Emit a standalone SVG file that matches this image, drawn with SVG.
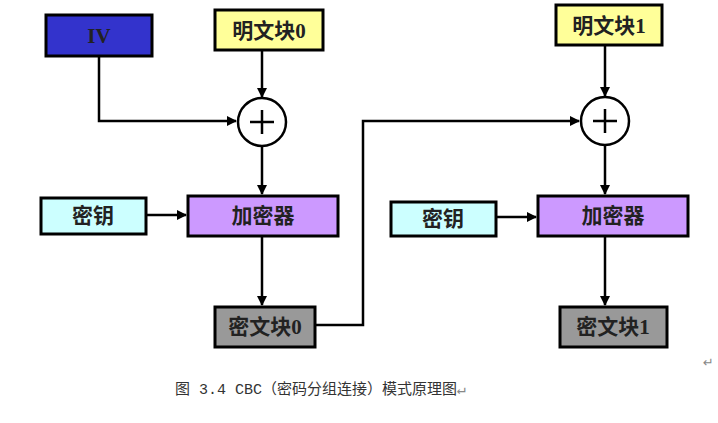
<svg xmlns="http://www.w3.org/2000/svg" width="718" height="423" viewBox="0 0 718 423">
<style>
.b{stroke:#000;stroke-width:3}
.t{font-family:"Liberation Serif","Noto Sans CJK SC",serif;font-weight:bold;font-size:21px;text-anchor:middle;fill:#222}
.c{fill:none;stroke:#000;stroke-width:2.5}
</style>
<defs><marker id="a" viewBox="0 0 10 10" refX="9" refY="5" markerWidth="4" markerHeight="4" orient="auto"><path d="M0,0L10,5L0,10z" fill="#000"/></marker></defs>
<rect width="718" height="423" fill="#fff"/>
<g id="connectors" class="c">
<path d="M99,56V121H236" marker-end="url(#a)"/>
<path d="M262,50V97" marker-end="url(#a)"/>
<path d="M262,147V194" marker-end="url(#a)"/>
<path d="M146,215H186" marker-end="url(#a)"/>
<path d="M262,236V305" marker-end="url(#a)"/>
<path d="M315,325H363V121H579" marker-end="url(#a)"/>
<path d="M605,45V96" marker-end="url(#a)"/>
<path d="M605,146V194" marker-end="url(#a)"/>
<path d="M496,217H536" marker-end="url(#a)"/>
<path d="M605,236V305" marker-end="url(#a)"/>
</g>
<g id="iv"><rect class="b" x="46" y="15" width="106" height="41" fill="#3333cc"/><text class="t" x="99" y="43">IV</text></g>
<g id="p0"><rect class="b" x="215" y="10" width="108" height="40" fill="#ffff99"/><text class="t" x="269" y="38">明文块0</text></g>
<g id="x0"><circle cx="262" cy="122" r="24" fill="#fff" stroke="#000" stroke-width="2.5"/><path d="M250,122H274M262,110V134" stroke="#000" stroke-width="2.5"/></g>
<g id="k0"><rect class="b" x="41" y="198" width="105" height="36" fill="#ccffff"/><text class="t" x="93" y="223">密钥</text></g>
<g id="e0"><rect class="b" x="188" y="196" width="150" height="40" fill="#cc99ff"/><text class="t" x="263" y="223">加密器</text></g>
<g id="c0"><rect class="b" x="215" y="307" width="100" height="40" fill="#999"/><text class="t" x="265" y="334">密文块0</text></g>
<g id="p1"><rect class="b" x="556" y="5" width="106" height="40" fill="#ffff99"/><text class="t" x="609" y="33">明文块1</text></g>
<g id="x1"><circle cx="605" cy="121" r="24" fill="#fff" stroke="#000" stroke-width="2.5"/><path d="M593,121H617M605,109V133" stroke="#000" stroke-width="2.5"/></g>
<g id="k1"><rect class="b" x="391" y="202" width="105" height="34" fill="#ccffff"/><text class="t" x="443" y="226">密钥</text></g>
<g id="e1"><rect class="b" x="538" y="196" width="150" height="40" fill="#cc99ff"/><text class="t" x="613" y="223">加密器</text></g>
<g id="c1"><rect class="b" x="560" y="307" width="107" height="40" fill="#999"/><text class="t" x="613" y="334">密文块1</text></g>
<text x="175" y="394" font-family="'Liberation Mono','Noto Sans CJK SC',monospace" font-size="15" fill="#333">图 3.4 CBC（密码分组连接）模式原理图<tspan fill="#888">↵</tspan></text>
<text x="703" y="367" font-family="'DejaVu Sans',sans-serif" font-size="13" fill="#888">↵</text>
</svg>
